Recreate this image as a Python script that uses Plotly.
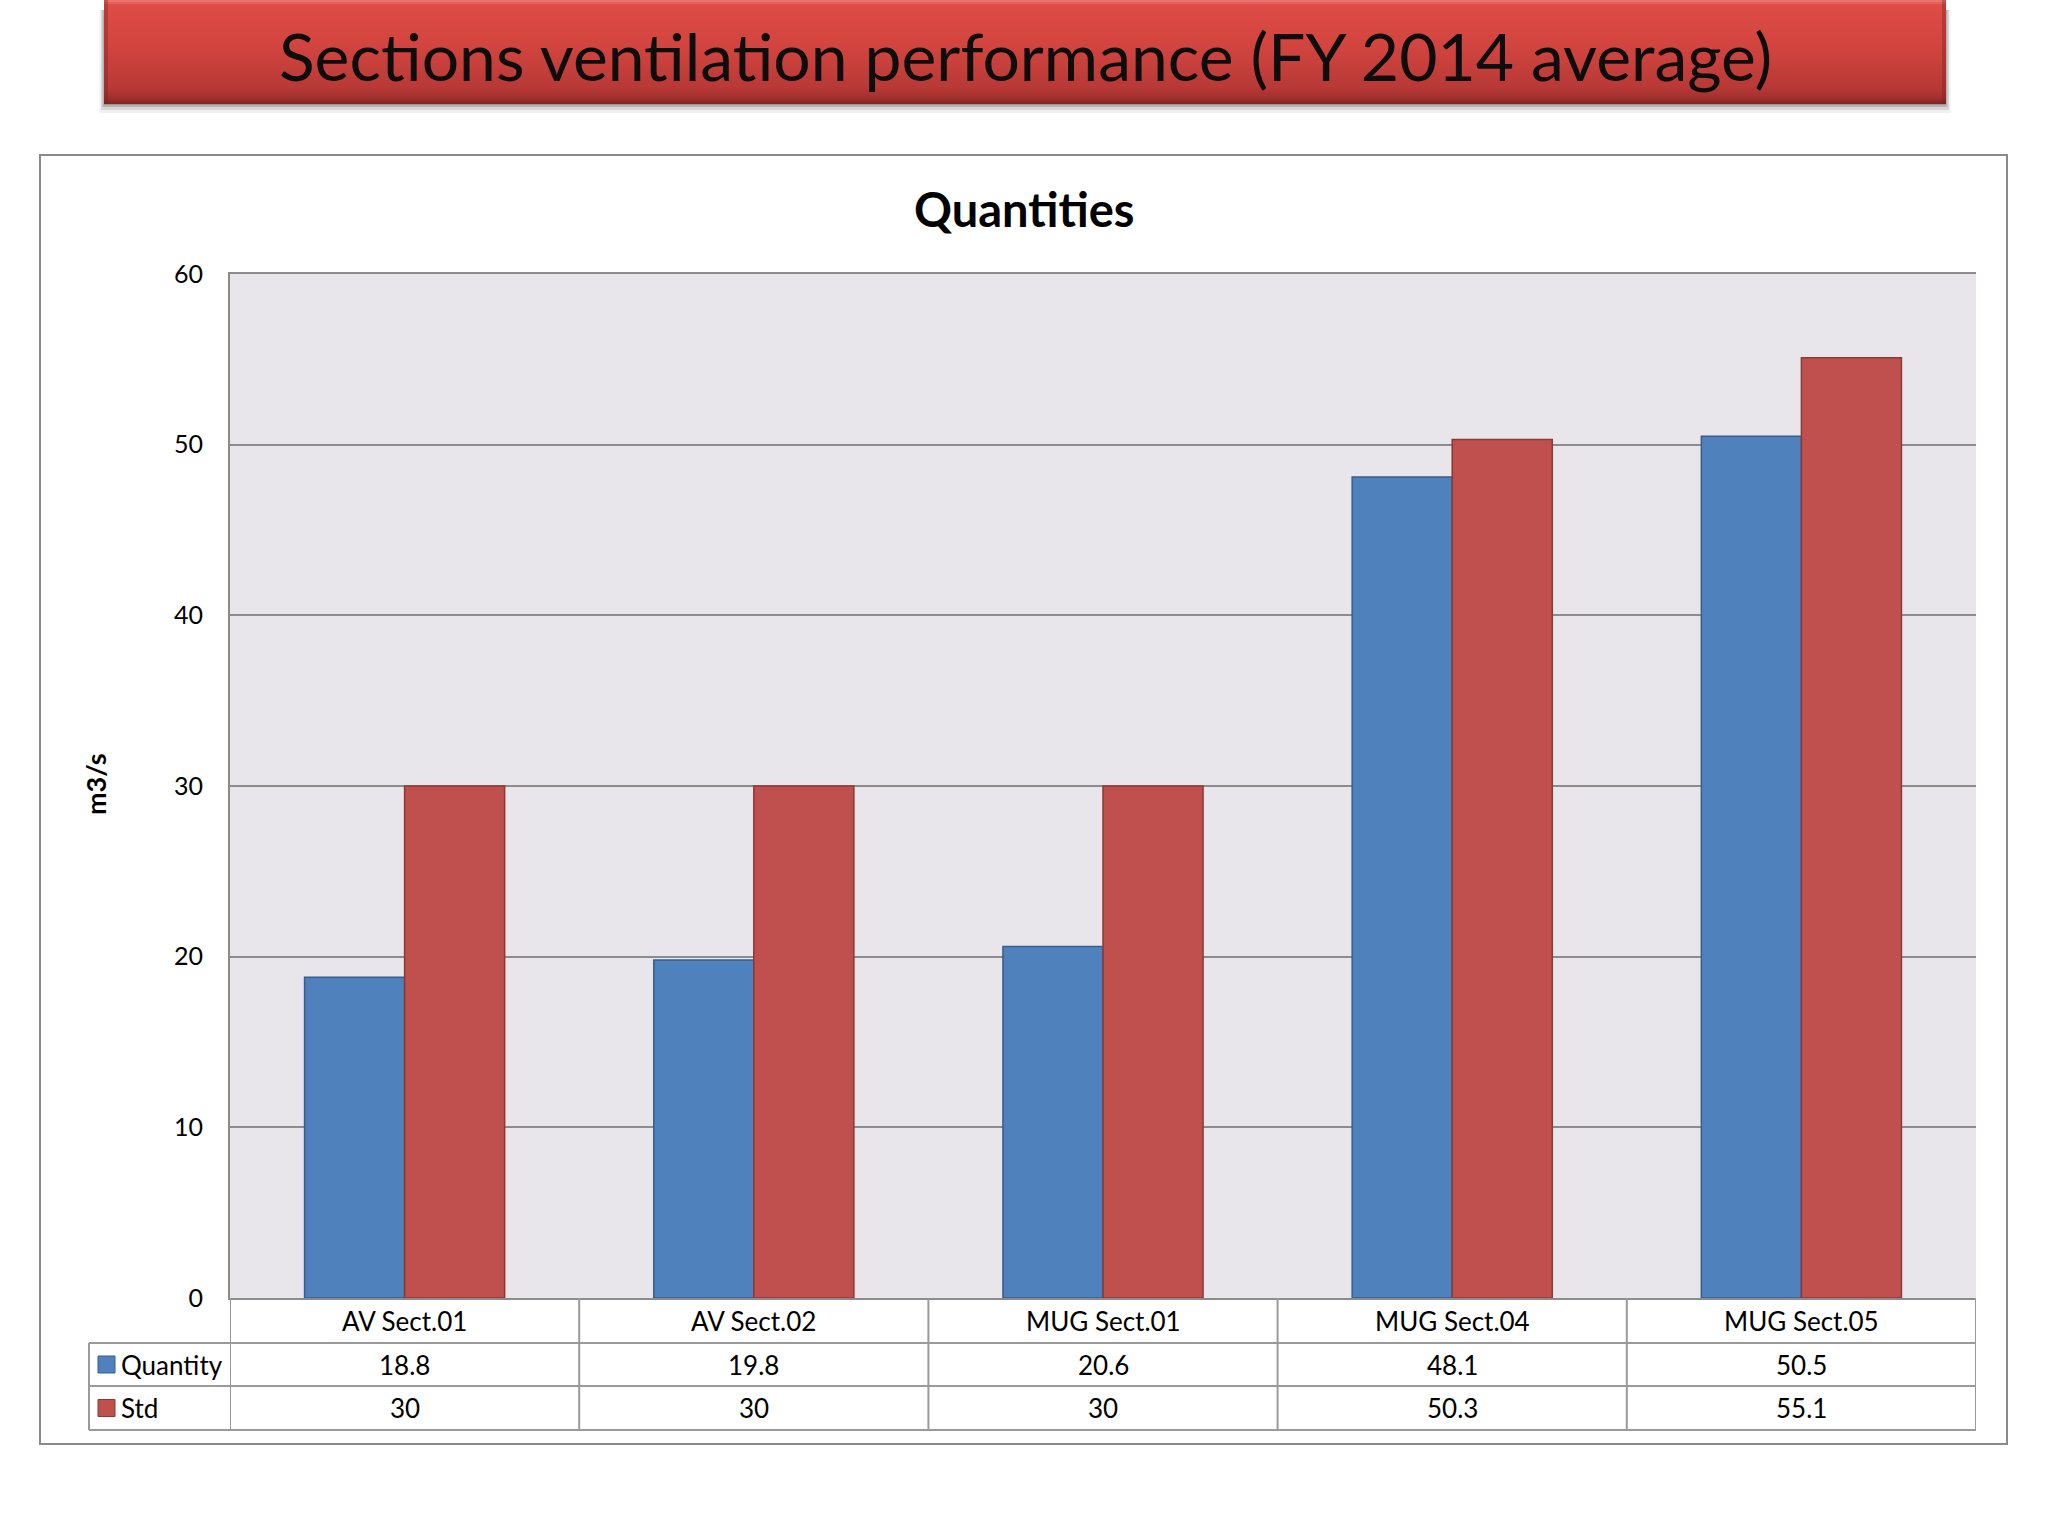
import plotly.graph_objects as go

sections = ["AV Sect.01", "AV Sect.02", "MUG Sect.01", "MUG Sect.04", "MUG Sect.05"]
quantity = [18.8, 19.8, 20.6, 48.1, 50.5]
std = [30, 30, 30, 50.3, 55.1]
y_ticks = [0, 10, 20, 30, 40, 50, 60]

BLUE = "#4f81bd"
RED = "#c0504d"
GRID = "#8c8c8c"
TABLE_LINE = "#9a9a9a"
FONT = "Lato"

W, H = 2048, 1536
PLOT_L, PLOT_R, PLOT_T, PLOT_B = 230, 1976, 274, 1298


def px(x):
    return (x - PLOT_L) / (PLOT_R - PLOT_L)


def py(y):
    return (PLOT_B - y) / (PLOT_B - PLOT_T)


def mix(c1, c2, t):
    a = [int(c1[i:i + 2], 16) for i in (1, 3, 5)]
    b = [int(c2[i:i + 2], 16) for i in (1, 3, 5)]
    return "#" + "".join(f"{round(x + (y - x) * t):02x}" for x, y in zip(a, b))


fig = go.Figure()
fig.add_bar(
    x=sections, y=quantity, name="Quantity",
    marker=dict(color=BLUE, line=dict(color="#385d8a", width=1.5)),
)
fig.add_bar(
    x=sections, y=std, name="Std",
    marker=dict(color=RED, line=dict(color="#8c3836", width=1.5)),
)

shapes = []
annotations = []

# outer chart frame
shapes.append(dict(type="rect", xref="paper", yref="paper",
                   x0=px(40), x1=px(2007), y0=py(155), y1=py(1444),
                   line=dict(color="#8a8a8a", width=2), layer="below"))

# banner shadow
for off, alpha in [(9, 0.06), (6, 0.10), (3, 0.16)]:
    shapes.append(dict(type="rect", xref="paper", yref="paper",
                       x0=px(104 - off / 2), x1=px(1946 + off / 2),
                       y0=py(104 + off), y1=py(10),
                       fillcolor=f"rgba(0,0,0,{alpha})", line=dict(width=0)))

# banner gradient (top light -> bottom dark)
stops = [(0.0, "#ee7c77"), (0.05, "#de4c47"), (0.45, "#d2443f"),
         (0.85, "#b73936"), (0.95, "#9f2f2d"), (1.0, "#7a2422")]
top, bottom, n = 0, 104, 52
for k in range(n):
    t = (k + 0.5) / n
    for (t0, c0), (t1, c1) in zip(stops, stops[1:]):
        if t0 <= t <= t1:
            col = mix(c0, c1, (t - t0) / (t1 - t0))
            break
    y0 = top + (bottom - top) * k / n
    y1 = top + (bottom - top) * (k + 1) / n
    shapes.append(dict(type="rect", xref="paper", yref="paper",
                       x0=px(104), x1=px(1946), y0=py(y1 + 0.3), y1=py(y0),
                       fillcolor=col, line=dict(width=0)))
# bevel edges
for x0, x1 in [(104, 108), (1942, 1946)]:
    shapes.append(dict(type="rect", xref="paper", yref="paper",
                       x0=px(x0), x1=px(x1), y0=py(104), y1=py(0),
                       fillcolor="rgba(120,30,30,0.35)", line=dict(width=0)))

annotations.append(dict(
    text="Sections ventilation performance (FY 2014 average)",
    xref="paper", yref="paper", x=px(1025), y=py(55),
    xanchor="center", yanchor="middle", showarrow=False,
    font=dict(family=FONT, size=66, color="#0d0d0d"),
))

# chart title and axis title
annotations.append(dict(
    text="<b>Quantities</b>", xref="paper", yref="paper",
    x=px(1024), y=py(209), xanchor="center", yanchor="middle",
    showarrow=False, font=dict(family=FONT, size=47, color="#000000"),
))
annotations.append(dict(
    text="<b>m3/s</b>", xref="paper", yref="paper",
    x=px(95), y=py(784), xanchor="center", yanchor="middle",
    textangle=-90, showarrow=False,
    font=dict(family=FONT, size=27, color="#000000"),
))

# data table under the plot
row_edges = [1298, 1343, 1386, 1430]
LEG_L = 89


def hline(x0, x1, y):
    shapes.append(dict(type="line", xref="paper", yref="paper",
                       x0=x0, x1=x1, y0=py(y), y1=py(y),
                       line=dict(color=TABLE_LINE, width=2)))


for y in row_edges[1:]:
    hline(px(LEG_L), px(PLOT_R), y)
shapes.append(dict(type="line", xref="paper", yref="paper",
                   x0=px(LEG_L), x1=px(LEG_L), y0=py(row_edges[1]), y1=py(row_edges[3]),
                   line=dict(color=TABLE_LINE, width=2)))
for i in range(len(sections) + 1):
    shapes.append(dict(type="line", xref="x", yref="paper",
                       x0=i - 0.5, x1=i - 0.5, y0=py(row_edges[0]), y1=py(row_edges[3]),
                       line=dict(color=TABLE_LINE, width=2)))

row_mid = [(a + b) / 2 for a, b in zip(row_edges, row_edges[1:])]
cell_font = dict(family=FONT, size=26, color="#000000")
for i, name in enumerate(sections):
    annotations.append(dict(text=name, xref="x", yref="paper", x=i, y=py(row_mid[0]),
                            showarrow=False, yanchor="middle", font=cell_font))
    annotations.append(dict(text=f"{quantity[i]:g}", xref="x", yref="paper", x=i,
                            y=py(row_mid[1]), showarrow=False, yanchor="middle", font=cell_font))
    annotations.append(dict(text=f"{std[i]:g}", xref="x", yref="paper", x=i,
                            y=py(row_mid[2]), showarrow=False, yanchor="middle", font=cell_font))

for label, color, edge, ymid in [("Quantity", BLUE, "#385d8a", row_mid[1]),
                                 ("Std", RED, "#8c3836", row_mid[2])]:
    shapes.append(dict(type="rect", xref="paper", yref="paper",
                       x0=px(98), x1=px(115), y0=py(ymid + 8.5), y1=py(ymid - 8.5),
                       fillcolor=color, line=dict(color=edge, width=1)))
    annotations.append(dict(text=label, xref="paper", yref="paper", x=px(119),
                            y=py(ymid), xanchor="left", yanchor="middle",
                            showarrow=False, font=cell_font))

fig.update_layout(
    width=W, height=H,
    margin=dict(l=PLOT_L, r=W - PLOT_R, t=PLOT_T, b=H - PLOT_B, pad=0),
    paper_bgcolor="#ffffff",
    plot_bgcolor="#e8e6ea",
    barmode="group",
    bargap=0.427,
    bargroupgap=0,
    showlegend=False,
    shapes=shapes,
    annotations=annotations,
    font=dict(family=FONT, color="#000000"),
)
fig.update_xaxes(showticklabels=False, showgrid=False, zeroline=False,
                 showline=True, mirror=True, linecolor=GRID, linewidth=2,
                 ticks="", range=[-0.5, len(sections) - 0.5])
fig.update_yaxes(range=[0, 60], tickvals=y_ticks, showgrid=True, gridcolor=GRID,
                 gridwidth=2, zeroline=False, showline=True, linecolor=GRID,
                 linewidth=2, ticks="", ticklabelstandoff=20,
                 tickfont=dict(family=FONT, size=25, color="#000000"))

# drop the default page margin so the figure sits at the top-left corner
fig.write_html("out.html", config={"displayModeBar": False},
               post_script="document.body.style.margin='0';")
